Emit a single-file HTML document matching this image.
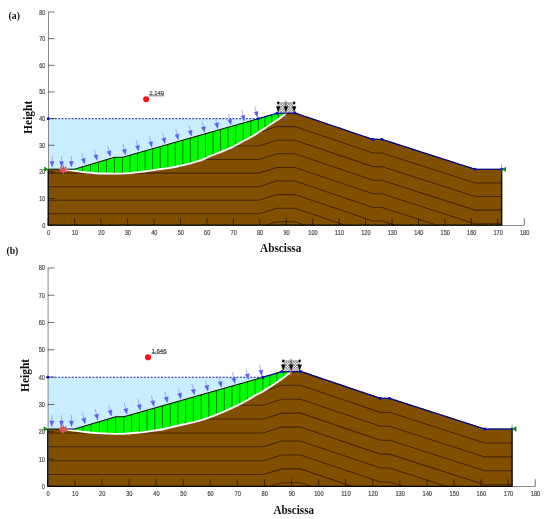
<!DOCTYPE html>
<html><head><meta charset="utf-8"><title>Slope stability</title>
<style>html,body{margin:0;padding:0;background:#fff;}svg{display:block;}</style>
</head><body>
<svg width="550" height="519" viewBox="0 0 550 519">
<rect width="550" height="519" fill="#fff"/>
<g transform="translate(0 0)">
<clipPath id="cba"><polygon points="48.20,169.20 74.50,169.20 114.50,157.30 122.50,157.30 258.30,118.70 277.00,113.20 295.00,113.00 373.00,139.40 382.00,139.40 475.00,169.30 501.70,169.30 501.70,225.20 48.20,225.20"/></clipPath>
<polygon points="48.20,118.70 258.30,118.70 122.50,157.30 114.50,157.30 74.50,169.20 48.20,169.20" fill="#c8eeff"/>
<polygon points="48.20,169.20 74.50,169.20 114.50,157.30 122.50,157.30 258.30,118.70 277.00,113.20 295.00,113.00 373.00,139.40 382.00,139.40 475.00,169.30 501.70,169.30 501.70,225.20 48.20,225.20" fill="#805000"/>
<g clip-path="url(#cba)" fill="none" stroke="#4a2608" stroke-width="1.05"><polyline points="46.20,132.45 258.80,132.45 276.70,126.60 295.00,126.60 373.00,153.00 382.00,153.00 475.00,182.90 503.70,182.90"/><polyline points="46.20,146.00 258.80,146.00 276.70,140.20 295.00,140.20 373.00,166.60 382.00,166.60 475.00,196.50 503.70,196.50"/><polyline points="46.20,159.55 258.80,159.55 276.70,153.80 295.00,153.80 373.00,180.20 382.00,180.20 475.00,210.10 503.70,210.10"/><polyline points="46.20,173.10 258.80,173.10 276.70,167.40 295.00,167.40 373.00,193.80 382.00,193.80 475.00,223.70 503.70,223.70"/><polyline points="46.20,186.65 258.80,186.65 276.70,181.00 295.00,181.00 373.00,207.40 382.00,207.40 475.00,237.30 503.70,237.30"/><polyline points="46.20,200.20 258.80,200.20 276.70,194.60 295.00,194.60 373.00,221.00 382.00,221.00 475.00,250.90 503.70,250.90"/><polyline points="46.20,213.75 258.80,213.75 276.70,208.20 295.00,208.20 373.00,234.60 382.00,234.60 475.00,264.50 503.70,264.50"/><polyline points="46.20,227.30 258.80,227.30 276.70,221.80 295.00,221.80 373.00,248.20 382.00,248.20 475.00,278.10 503.70,278.10"/></g>
<path d="M63.60,169.20 L74.50,169.20 L114.50,157.30 L122.50,157.30 L258.30,118.70 L277.00,113.20 L285.20,113.11 L285.20,114.00 C284.75,114.38 283.55,115.48 282.50,116.30 C281.45,117.12 280.10,118.07 278.90,118.90 C277.70,119.73 276.78,120.32 275.30,121.30 C273.82,122.28 271.57,123.75 270.00,124.80 C268.43,125.85 267.57,126.50 265.90,127.60 C264.23,128.70 261.82,130.22 260.00,131.40 C258.18,132.58 256.75,133.63 255.00,134.70 C253.25,135.77 251.62,136.65 249.50,137.80 C247.38,138.95 244.72,140.30 242.30,141.60 C239.88,142.90 237.05,144.50 235.00,145.60 C232.95,146.70 231.75,147.38 230.00,148.20 C228.25,149.02 226.62,149.65 224.50,150.50 C222.38,151.35 219.72,152.35 217.30,153.30 C214.88,154.25 212.43,155.17 210.00,156.20 C207.57,157.23 205.28,158.52 202.70,159.50 C200.12,160.48 197.22,161.28 194.50,162.10 C191.78,162.92 189.12,163.72 186.40,164.40 C183.68,165.08 180.93,165.63 178.20,166.20 C175.47,166.77 172.28,167.40 170.00,167.80 C167.72,168.20 166.67,168.30 164.50,168.60 C162.33,168.90 159.27,169.27 157.00,169.60 C154.73,169.93 153.07,170.28 150.90,170.60 C148.73,170.92 146.27,171.22 144.00,171.50 C141.73,171.78 139.70,172.03 137.30,172.30 C134.90,172.57 132.32,172.88 129.60,173.10 C126.88,173.32 123.52,173.52 121.00,173.60 C118.48,173.68 117.17,173.62 114.50,173.60 C111.83,173.58 108.02,173.57 105.00,173.50 C101.98,173.43 99.40,173.37 96.40,173.20 C93.40,173.03 90.03,172.80 87.00,172.50 C83.97,172.20 81.18,171.80 78.20,171.40 C75.22,171.00 71.53,170.45 69.10,170.10 C66.67,169.75 64.52,169.43 63.60,169.30 Z" fill="#00ff00"/>
<path d="M74.50,169.20V170.87M82.50,166.82V171.94M90.50,164.44V172.76M98.50,162.06V173.27M106.50,159.68V173.52M114.50,157.30V173.60M122.50,157.30V173.51M130.04,155.16V173.05M137.59,153.01V172.27M145.13,150.87V171.35M152.68,148.72V170.31M160.22,146.58V169.17M167.76,144.43V168.13M175.31,142.29V166.76M182.85,140.15V165.18M190.40,138.00V163.27M197.94,135.86V161.01M205.48,133.71V158.24M213.03,131.57V155.00M220.57,129.42V152.03M228.12,127.28V148.99M235.66,125.14V145.24M243.20,122.99V141.12M250.75,120.85V137.10M258.29,118.70V132.53M265.07,116.71V128.13M271.85,114.71V123.58M278.62,113.18V119.08" stroke="#0e6a0e" stroke-width="0.85" fill="none"/>
<path d="M63.60,169.30 C64.52,169.43 66.67,169.75 69.10,170.10 C71.53,170.45 75.22,171.00 78.20,171.40 C81.18,171.80 83.97,172.20 87.00,172.50 C90.03,172.80 93.40,173.03 96.40,173.20 C99.40,173.37 101.98,173.43 105.00,173.50 C108.02,173.57 111.83,173.58 114.50,173.60 C117.17,173.62 118.48,173.68 121.00,173.60 C123.52,173.52 126.88,173.32 129.60,173.10 C132.32,172.88 134.90,172.57 137.30,172.30 C139.70,172.03 141.73,171.78 144.00,171.50 C146.27,171.22 148.73,170.92 150.90,170.60 C153.07,170.28 154.73,169.93 157.00,169.60 C159.27,169.27 162.33,168.90 164.50,168.60 C166.67,168.30 167.72,168.20 170.00,167.80 C172.28,167.40 175.47,166.77 178.20,166.20 C180.93,165.63 183.68,165.08 186.40,164.40 C189.12,163.72 191.78,162.92 194.50,162.10 C197.22,161.28 200.12,160.48 202.70,159.50 C205.28,158.52 207.57,157.23 210.00,156.20 C212.43,155.17 214.88,154.25 217.30,153.30 C219.72,152.35 222.38,151.35 224.50,150.50 C226.62,149.65 228.25,149.02 230.00,148.20 C231.75,147.38 232.95,146.70 235.00,145.60 C237.05,144.50 239.88,142.90 242.30,141.60 C244.72,140.30 247.38,138.95 249.50,137.80 C251.62,136.65 253.25,135.77 255.00,134.70 C256.75,133.63 258.18,132.58 260.00,131.40 C261.82,130.22 264.23,128.70 265.90,127.60 C267.57,126.50 268.43,125.85 270.00,124.80 C271.57,123.75 273.82,122.28 275.30,121.30 C276.78,120.32 277.70,119.73 278.90,118.90 C280.10,118.07 281.45,117.12 282.50,116.30 C283.55,115.48 284.75,114.38 285.20,114.00" stroke="#ffffff" stroke-width="1.9" fill="none"/>
<polyline points="48.20,169.20 74.50,169.20 114.50,157.30 122.50,157.30 258.30,118.70" fill="none" stroke="#101010" stroke-width="1"/>
<polyline points="258.30,118.70 277.00,113.20 295.00,113.00 373.00,139.40 382.00,139.40 475.00,169.30 501.70,169.30" fill="none" stroke="#000" stroke-width="1.1"/>
<polyline points="258.30,118.70 277.00,113.20 295.00,113.00 373.00,139.40 382.00,139.40 475.00,169.30 501.70,169.30" fill="none" stroke="#0a0ad2" stroke-width="1.25" stroke-dasharray="1.7,1.1"/>
<line x1="48.20" y1="118.70" x2="258.30" y2="118.70" stroke="#1c1ca8" stroke-width="1" stroke-dasharray="1.9,1.45"/>
<polyline points="48.50,12.00 48.50,225.20" stroke="#8a8a8a" stroke-width="1" fill="none"/>
<polyline points="48.20,225.50 524.30,225.50" stroke="#8a8a8a" stroke-width="1" fill="none"/>
<polyline points="48.20,169.20 48.20,225.20 501.70,225.20 501.70,169.30" stroke="#000" stroke-width="1.3" fill="none"/>
<path d="M48.20,225.20H54.70M48.20,198.55H54.70M48.20,171.90H54.70M48.20,145.25H54.70M48.20,118.60H54.70M48.20,91.95H54.70M48.20,65.30H54.70M48.20,38.65H54.70M48.20,12.00H54.70M48.20,225.20V218.20M74.65,225.20V218.20M101.10,225.20V218.20M127.55,225.20V218.20M154.00,225.20V218.20M180.45,225.20V218.20M206.90,225.20V218.20M233.35,225.20V218.20M259.80,225.20V218.20M286.25,225.20V218.20M312.70,225.20V218.20M339.15,225.20V218.20M365.60,225.20V218.20M392.05,225.20V218.20M418.50,225.20V218.20M444.95,225.20V218.20M471.40,225.20V218.20M497.85,225.20V218.20M524.30,225.20V218.20" stroke="#000" stroke-opacity="0.55" stroke-width="1.0" fill="none"/>
<g font-family="Liberation Sans, Arial, sans-serif" font-size="7.3" fill="#474747" stroke="#474747" stroke-width="0.2"><text x="45.30" y="227.70" text-anchor="end" textLength="3.00" lengthAdjust="spacingAndGlyphs">0</text><text x="45.30" y="201.05" text-anchor="end" textLength="6.00" lengthAdjust="spacingAndGlyphs">10</text><text x="45.30" y="174.40" text-anchor="end" textLength="6.00" lengthAdjust="spacingAndGlyphs">20</text><text x="45.30" y="147.75" text-anchor="end" textLength="6.00" lengthAdjust="spacingAndGlyphs">30</text><text x="45.30" y="121.10" text-anchor="end" textLength="6.00" lengthAdjust="spacingAndGlyphs">40</text><text x="45.30" y="94.45" text-anchor="end" textLength="6.00" lengthAdjust="spacingAndGlyphs">50</text><text x="45.30" y="67.80" text-anchor="end" textLength="6.00" lengthAdjust="spacingAndGlyphs">60</text><text x="45.30" y="41.15" text-anchor="end" textLength="6.00" lengthAdjust="spacingAndGlyphs">70</text><text x="45.30" y="14.50" text-anchor="end" textLength="6.00" lengthAdjust="spacingAndGlyphs">80</text><text x="48.50" y="234.90" text-anchor="middle" textLength="3.10" lengthAdjust="spacingAndGlyphs">0</text><text x="74.95" y="234.90" text-anchor="middle" textLength="6.20" lengthAdjust="spacingAndGlyphs">10</text><text x="101.40" y="234.90" text-anchor="middle" textLength="6.20" lengthAdjust="spacingAndGlyphs">20</text><text x="127.85" y="234.90" text-anchor="middle" textLength="6.20" lengthAdjust="spacingAndGlyphs">30</text><text x="154.30" y="234.90" text-anchor="middle" textLength="6.20" lengthAdjust="spacingAndGlyphs">40</text><text x="180.75" y="234.90" text-anchor="middle" textLength="6.20" lengthAdjust="spacingAndGlyphs">50</text><text x="207.20" y="234.90" text-anchor="middle" textLength="6.20" lengthAdjust="spacingAndGlyphs">60</text><text x="233.65" y="234.90" text-anchor="middle" textLength="6.20" lengthAdjust="spacingAndGlyphs">70</text><text x="260.10" y="234.90" text-anchor="middle" textLength="6.20" lengthAdjust="spacingAndGlyphs">80</text><text x="286.55" y="234.90" text-anchor="middle" textLength="6.20" lengthAdjust="spacingAndGlyphs">90</text><text x="313.00" y="234.90" text-anchor="middle" textLength="9.30" lengthAdjust="spacingAndGlyphs">100</text><text x="339.45" y="234.90" text-anchor="middle" textLength="9.30" lengthAdjust="spacingAndGlyphs">110</text><text x="365.90" y="234.90" text-anchor="middle" textLength="9.30" lengthAdjust="spacingAndGlyphs">120</text><text x="392.35" y="234.90" text-anchor="middle" textLength="9.30" lengthAdjust="spacingAndGlyphs">130</text><text x="418.80" y="234.90" text-anchor="middle" textLength="9.30" lengthAdjust="spacingAndGlyphs">140</text><text x="445.25" y="234.90" text-anchor="middle" textLength="9.30" lengthAdjust="spacingAndGlyphs">150</text><text x="471.70" y="234.90" text-anchor="middle" textLength="9.30" lengthAdjust="spacingAndGlyphs">160</text><text x="498.15" y="234.90" text-anchor="middle" textLength="9.30" lengthAdjust="spacingAndGlyphs">170</text><text x="524.60" y="234.90" text-anchor="middle" textLength="9.30" lengthAdjust="spacingAndGlyphs">180</text></g>
<g><line x1="52.10" y1="155.80" x2="52.10" y2="161.50" stroke="#9898ff" stroke-width="0.8"/><polygon fill="#5d5df4" stroke="#5d5df4" stroke-width="0.5" stroke-linejoin="round" points="52.10,166.80 50.15,161.50 54.05,161.50"/><line x1="61.60" y1="155.80" x2="61.60" y2="161.50" stroke="#9898ff" stroke-width="0.8"/><polygon fill="#5d5df4" stroke="#5d5df4" stroke-width="0.5" stroke-linejoin="round" points="61.60,166.80 59.65,161.50 63.55,161.50"/><line x1="71.30" y1="155.80" x2="71.30" y2="161.50" stroke="#9898ff" stroke-width="0.8"/><polygon fill="#5d5df4" stroke="#5d5df4" stroke-width="0.5" stroke-linejoin="round" points="71.30,166.80 69.35,161.50 73.25,161.50"/><line x1="82.01" y1="153.31" x2="83.30" y2="158.86" stroke="#9898ff" stroke-width="0.8"/><polygon fill="#5d5df4" stroke="#5d5df4" stroke-width="0.5" stroke-linejoin="round" points="84.50,164.03 81.40,159.30 85.20,158.42"/><line x1="94.41" y1="149.62" x2="95.70" y2="155.17" stroke="#9898ff" stroke-width="0.8"/><polygon fill="#5d5df4" stroke="#5d5df4" stroke-width="0.5" stroke-linejoin="round" points="96.90,160.34 93.80,155.61 97.60,154.73"/><line x1="107.71" y1="145.66" x2="109.00" y2="151.22" stroke="#9898ff" stroke-width="0.8"/><polygon fill="#5d5df4" stroke="#5d5df4" stroke-width="0.5" stroke-linejoin="round" points="110.20,156.38 107.10,151.66 110.90,150.78"/><line x1="123.02" y1="143.94" x2="124.25" y2="149.50" stroke="#9898ff" stroke-width="0.8"/><polygon fill="#5d5df4" stroke="#5d5df4" stroke-width="0.5" stroke-linejoin="round" points="125.40,154.68 122.35,149.92 126.16,149.08"/><line x1="136.21" y1="140.19" x2="137.44" y2="145.75" stroke="#9898ff" stroke-width="0.8"/><polygon fill="#5d5df4" stroke="#5d5df4" stroke-width="0.5" stroke-linejoin="round" points="138.59,150.93 135.54,146.17 139.35,145.33"/><line x1="149.40" y1="136.44" x2="150.63" y2="142.00" stroke="#9898ff" stroke-width="0.8"/><polygon fill="#5d5df4" stroke="#5d5df4" stroke-width="0.5" stroke-linejoin="round" points="151.78,147.18 148.73,142.43 152.54,141.58"/><line x1="162.59" y1="132.69" x2="163.82" y2="138.25" stroke="#9898ff" stroke-width="0.8"/><polygon fill="#5d5df4" stroke="#5d5df4" stroke-width="0.5" stroke-linejoin="round" points="164.97,143.43 161.92,138.68 165.73,137.83"/><line x1="175.78" y1="128.94" x2="177.01" y2="134.50" stroke="#9898ff" stroke-width="0.8"/><polygon fill="#5d5df4" stroke="#5d5df4" stroke-width="0.5" stroke-linejoin="round" points="178.16,139.68 175.11,134.93 178.92,134.08"/><line x1="188.97" y1="125.19" x2="190.20" y2="130.76" stroke="#9898ff" stroke-width="0.8"/><polygon fill="#5d5df4" stroke="#5d5df4" stroke-width="0.5" stroke-linejoin="round" points="191.35,135.93 188.30,131.18 192.11,130.33"/><line x1="202.16" y1="121.44" x2="203.39" y2="127.01" stroke="#9898ff" stroke-width="0.8"/><polygon fill="#5d5df4" stroke="#5d5df4" stroke-width="0.5" stroke-linejoin="round" points="204.54,132.18 201.49,127.43 205.30,126.58"/><line x1="215.35" y1="117.69" x2="216.58" y2="123.26" stroke="#9898ff" stroke-width="0.8"/><polygon fill="#5d5df4" stroke="#5d5df4" stroke-width="0.5" stroke-linejoin="round" points="217.73,128.43 214.68,123.68 218.49,122.84"/><line x1="228.54" y1="113.94" x2="229.77" y2="119.51" stroke="#9898ff" stroke-width="0.8"/><polygon fill="#5d5df4" stroke="#5d5df4" stroke-width="0.5" stroke-linejoin="round" points="230.92,124.68 227.87,119.93 231.68,119.09"/><line x1="241.73" y1="110.19" x2="242.96" y2="115.76" stroke="#9898ff" stroke-width="0.8"/><polygon fill="#5d5df4" stroke="#5d5df4" stroke-width="0.5" stroke-linejoin="round" points="244.11,120.93 241.06,116.18 244.87,115.34"/><line x1="254.92" y1="106.45" x2="256.15" y2="112.01" stroke="#9898ff" stroke-width="0.8"/><polygon fill="#5d5df4" stroke="#5d5df4" stroke-width="0.5" stroke-linejoin="round" points="257.30,117.18 254.25,112.43 258.06,111.59"/></g>
<g fill="#0a0ad2"><circle cx="48.20" cy="118.70" r="1.45"/><circle cx="258.30" cy="118.70" r="1.45"/><circle cx="277.00" cy="113.20" r="1.45"/><circle cx="295.00" cy="113.00" r="1.45"/><circle cx="373.00" cy="139.40" r="1.45"/><circle cx="382.00" cy="139.40" r="1.45"/><circle cx="475.00" cy="169.30" r="1.45"/><circle cx="501.70" cy="169.30" r="1.45"/></g>
<polygon points="44.2,166.6 48.6,169.2 44.2,171.8" fill="#109010"/>
<polygon points="506.0,166.7 501.6,169.3 506.0,171.9" fill="#109010"/>
<line x1="501.7" y1="164" x2="501.7" y2="174" stroke="#3a7a3a" stroke-width="0.5"/>
<path d="M59.20,169.60L67.40,169.60M60.40,166.70L66.20,172.50M63.30,165.50L63.30,173.70M66.20,166.70L60.40,172.50" stroke="#e0506a" stroke-width="1.4" fill="none"/>
<line x1="285.7" y1="111.8" x2="285.7" y2="117.4" stroke="#e0506a" stroke-width="1.2"/>
<pattern id="hatcha" x="0.3" y="0.2" width="2.6" height="2.6" patternUnits="userSpaceOnUse"><rect width="2.6" height="2.6" fill="#fff"/><path d="M0,0L2.6,2.6M2.6,0L0,2.6" stroke="#111" stroke-width="0.4"/></pattern>
<rect x="277.3" y="102.4" width="17.4" height="9.6" fill="url(#hatcha)"/>
<line x1="277.6" y1="102.8" x2="294.8" y2="102.8" stroke="#222" stroke-width="0.5" stroke-dasharray="0.8,0.9"/>
<polygon points="278.20,111.8 276.35,106.6 280.05,106.6" fill="#000" stroke="#000" stroke-width="0.4" stroke-linejoin="round"/>
<polygon points="285.90,111.8 284.05,106.6 287.75,106.6" fill="#000" stroke="#000" stroke-width="0.4" stroke-linejoin="round"/>
<polygon points="294.20,111.8 292.35,106.6 296.05,106.6" fill="#000" stroke="#000" stroke-width="0.4" stroke-linejoin="round"/>
<line x1="285.9" y1="100.8" x2="285.9" y2="107.2" stroke="#000" stroke-width="0.6"/>
<ellipse cx="278.20" cy="102.8" rx="1.15" ry="1.35" fill="#000"/>
<ellipse cx="294.20" cy="102.8" rx="1.15" ry="1.35" fill="#000"/>
<circle cx="146.1" cy="99.2" r="3.0" fill="#ff1010"/>
</g>
<text x="149.20" y="94.70" font-family="Liberation Sans, Arial, sans-serif" font-size="6.0" fill="#3c3c3c" stroke="#3c3c3c" stroke-width="0.18" textLength="14.90" lengthAdjust="spacingAndGlyphs">2.149</text>
<line x1="149.20" y1="95.80" x2="164.10" y2="95.80" stroke="#555" stroke-width="0.8"/>

<g transform="matrix(1.02382 0 0 1.02439 -1.5481 255.6073)">
<clipPath id="cbb"><polygon points="48.20,169.20 74.50,169.20 114.50,157.30 122.50,157.30 258.30,118.70 277.00,113.20 295.00,113.00 373.00,139.40 382.00,139.40 475.00,169.30 501.70,169.30 501.70,225.20 48.20,225.20"/></clipPath>
<polygon points="48.20,118.70 258.30,118.70 122.50,157.30 114.50,157.30 74.50,169.20 48.20,169.20" fill="#c8eeff"/>
<polygon points="48.20,169.20 74.50,169.20 114.50,157.30 122.50,157.30 258.30,118.70 277.00,113.20 295.00,113.00 373.00,139.40 382.00,139.40 475.00,169.30 501.70,169.30 501.70,225.20 48.20,225.20" fill="#805000"/>
<g clip-path="url(#cbb)" fill="none" stroke="#4a2608" stroke-width="1.05"><polyline points="46.20,132.45 258.80,132.45 276.70,126.60 295.00,126.60 373.00,153.00 382.00,153.00 475.00,182.90 503.70,182.90"/><polyline points="46.20,146.00 258.80,146.00 276.70,140.20 295.00,140.20 373.00,166.60 382.00,166.60 475.00,196.50 503.70,196.50"/><polyline points="46.20,159.55 258.80,159.55 276.70,153.80 295.00,153.80 373.00,180.20 382.00,180.20 475.00,210.10 503.70,210.10"/><polyline points="46.20,173.10 258.80,173.10 276.70,167.40 295.00,167.40 373.00,193.80 382.00,193.80 475.00,223.70 503.70,223.70"/><polyline points="46.20,186.65 258.80,186.65 276.70,181.00 295.00,181.00 373.00,207.40 382.00,207.40 475.00,237.30 503.70,237.30"/><polyline points="46.20,200.20 258.80,200.20 276.70,194.60 295.00,194.60 373.00,221.00 382.00,221.00 475.00,250.90 503.70,250.90"/><polyline points="46.20,213.75 258.80,213.75 276.70,208.20 295.00,208.20 373.00,234.60 382.00,234.60 475.00,264.50 503.70,264.50"/><polyline points="46.20,227.30 258.80,227.30 276.70,221.80 295.00,221.80 373.00,248.20 382.00,248.20 475.00,278.10 503.70,278.10"/></g>
<path d="M62.80,169.20 L74.50,169.20 L114.50,157.30 L122.50,157.30 L258.30,118.70 L277.00,113.20 L285.30,113.11 L285.30,114.00 C285.12,114.15 285.33,114.05 284.20,114.90 C283.07,115.75 280.77,117.48 278.50,119.10 C276.23,120.72 273.25,122.80 270.60,124.60 C267.95,126.40 264.83,128.47 262.60,129.90 C260.37,131.33 258.97,132.22 257.20,133.20 C255.43,134.18 253.98,134.70 252.00,135.80 C250.02,136.90 247.75,138.41 245.30,139.80 C242.85,141.19 239.97,142.77 237.30,144.17 C234.63,145.57 232.05,146.87 229.30,148.19 C226.55,149.51 223.98,150.71 220.80,152.08 C217.62,153.45 213.75,155.06 210.20,156.40 C206.65,157.74 203.05,159.00 199.50,160.10 C195.95,161.20 192.45,162.13 188.90,163.00 C185.35,163.87 181.80,164.48 178.20,165.30 C174.60,166.12 170.93,167.07 167.30,167.90 C163.67,168.73 159.98,169.65 156.40,170.30 C152.82,170.95 149.35,171.35 145.80,171.80 C142.25,172.25 138.65,172.68 135.10,173.00 C131.55,173.32 127.23,173.53 124.50,173.70 C121.77,173.87 121.43,173.98 118.70,174.00 C115.97,174.02 111.65,173.92 108.10,173.80 C104.55,173.68 100.95,173.53 97.40,173.30 C93.85,173.07 90.35,172.77 86.80,172.40 C83.25,172.03 79.48,171.57 76.10,171.10 C72.72,170.63 68.72,169.95 66.50,169.60 C64.28,169.25 63.42,169.10 62.80,169.00 Z" fill="#00ff00"/>
<path d="M74.50,169.20V170.85M82.50,166.82V171.88M90.50,164.44V172.71M98.50,162.06V173.35M106.50,159.68V173.73M114.50,157.30V173.92M122.50,157.30V173.80M130.04,155.16V173.33M137.59,153.01V172.72M145.13,150.87V171.87M152.68,148.72V170.83M160.22,146.58V169.46M167.76,144.43V167.79M175.31,142.29V165.99M182.85,140.15V164.30M190.40,138.00V162.59M197.94,135.86V160.53M205.48,133.71V158.03M213.03,131.57V155.25M220.57,129.42V152.17M228.12,127.28V148.73M235.66,125.14V144.99M243.20,122.99V140.94M250.75,120.85V136.55M258.29,118.70V132.53M265.07,116.71V128.26M271.85,114.71V123.73M278.62,113.18V119.01" stroke="#0e6a0e" stroke-width="0.85" fill="none"/>
<path d="M62.80,169.00 C63.42,169.10 64.28,169.25 66.50,169.60 C68.72,169.95 72.72,170.63 76.10,171.10 C79.48,171.57 83.25,172.03 86.80,172.40 C90.35,172.77 93.85,173.07 97.40,173.30 C100.95,173.53 104.55,173.68 108.10,173.80 C111.65,173.92 115.97,174.02 118.70,174.00 C121.43,173.98 121.77,173.87 124.50,173.70 C127.23,173.53 131.55,173.32 135.10,173.00 C138.65,172.68 142.25,172.25 145.80,171.80 C149.35,171.35 152.82,170.95 156.40,170.30 C159.98,169.65 163.67,168.73 167.30,167.90 C170.93,167.07 174.60,166.12 178.20,165.30 C181.80,164.48 185.35,163.87 188.90,163.00 C192.45,162.13 195.95,161.20 199.50,160.10 C203.05,159.00 206.65,157.74 210.20,156.40 C213.75,155.06 217.62,153.45 220.80,152.08 C223.98,150.71 226.55,149.51 229.30,148.19 C232.05,146.87 234.63,145.57 237.30,144.17 C239.97,142.77 242.85,141.19 245.30,139.80 C247.75,138.41 250.02,136.90 252.00,135.80 C253.98,134.70 255.43,134.18 257.20,133.20 C258.97,132.22 260.37,131.33 262.60,129.90 C264.83,128.47 267.95,126.40 270.60,124.60 C273.25,122.80 276.23,120.72 278.50,119.10 C280.77,117.48 283.07,115.75 284.20,114.90 C285.33,114.05 285.12,114.15 285.30,114.00" stroke="#ffffff" stroke-width="1.9" fill="none"/>
<polyline points="48.20,169.20 74.50,169.20 114.50,157.30 122.50,157.30 258.30,118.70" fill="none" stroke="#101010" stroke-width="1"/>
<polyline points="258.30,118.70 277.00,113.20 295.00,113.00 373.00,139.40 382.00,139.40 475.00,169.30 501.70,169.30" fill="none" stroke="#000" stroke-width="1.1"/>
<polyline points="258.30,118.70 277.00,113.20 295.00,113.00 373.00,139.40 382.00,139.40 475.00,169.30 501.70,169.30" fill="none" stroke="#0a0ad2" stroke-width="1.25" stroke-dasharray="1.7,1.1"/>
<line x1="48.20" y1="118.70" x2="258.30" y2="118.70" stroke="#1c1ca8" stroke-width="1" stroke-dasharray="1.9,1.45"/>
<polyline points="48.50,12.00 48.50,225.20" stroke="#8a8a8a" stroke-width="1" fill="none"/>
<polyline points="48.20,225.50 524.30,225.50" stroke="#8a8a8a" stroke-width="1" fill="none"/>
<polyline points="48.20,169.20 48.20,225.20 501.70,225.20 501.70,169.30" stroke="#000" stroke-width="1.3" fill="none"/>
<path d="M48.20,225.20H54.70M48.20,198.55H54.70M48.20,171.90H54.70M48.20,145.25H54.70M48.20,118.60H54.70M48.20,91.95H54.70M48.20,65.30H54.70M48.20,38.65H54.70M48.20,12.00H54.70M48.20,225.20V218.20M74.65,225.20V218.20M101.10,225.20V218.20M127.55,225.20V218.20M154.00,225.20V218.20M180.45,225.20V218.20M206.90,225.20V218.20M233.35,225.20V218.20M259.80,225.20V218.20M286.25,225.20V218.20M312.70,225.20V218.20M339.15,225.20V218.20M365.60,225.20V218.20M392.05,225.20V218.20M418.50,225.20V218.20M444.95,225.20V218.20M471.40,225.20V218.20M497.85,225.20V218.20M524.30,225.20V218.20" stroke="#000" stroke-opacity="0.55" stroke-width="1.0" fill="none"/>
<g font-family="Liberation Sans, Arial, sans-serif" font-size="7.3" fill="#474747" stroke="#474747" stroke-width="0.2"><text x="45.30" y="227.70" text-anchor="end" textLength="3.00" lengthAdjust="spacingAndGlyphs">0</text><text x="45.30" y="201.05" text-anchor="end" textLength="6.00" lengthAdjust="spacingAndGlyphs">10</text><text x="45.30" y="174.40" text-anchor="end" textLength="6.00" lengthAdjust="spacingAndGlyphs">20</text><text x="45.30" y="147.75" text-anchor="end" textLength="6.00" lengthAdjust="spacingAndGlyphs">30</text><text x="45.30" y="121.10" text-anchor="end" textLength="6.00" lengthAdjust="spacingAndGlyphs">40</text><text x="45.30" y="94.45" text-anchor="end" textLength="6.00" lengthAdjust="spacingAndGlyphs">50</text><text x="45.30" y="67.80" text-anchor="end" textLength="6.00" lengthAdjust="spacingAndGlyphs">60</text><text x="45.30" y="41.15" text-anchor="end" textLength="6.00" lengthAdjust="spacingAndGlyphs">70</text><text x="45.30" y="14.50" text-anchor="end" textLength="6.00" lengthAdjust="spacingAndGlyphs">80</text><text x="48.50" y="234.90" text-anchor="middle" textLength="3.10" lengthAdjust="spacingAndGlyphs">0</text><text x="74.95" y="234.90" text-anchor="middle" textLength="6.20" lengthAdjust="spacingAndGlyphs">10</text><text x="101.40" y="234.90" text-anchor="middle" textLength="6.20" lengthAdjust="spacingAndGlyphs">20</text><text x="127.85" y="234.90" text-anchor="middle" textLength="6.20" lengthAdjust="spacingAndGlyphs">30</text><text x="154.30" y="234.90" text-anchor="middle" textLength="6.20" lengthAdjust="spacingAndGlyphs">40</text><text x="180.75" y="234.90" text-anchor="middle" textLength="6.20" lengthAdjust="spacingAndGlyphs">50</text><text x="207.20" y="234.90" text-anchor="middle" textLength="6.20" lengthAdjust="spacingAndGlyphs">60</text><text x="233.65" y="234.90" text-anchor="middle" textLength="6.20" lengthAdjust="spacingAndGlyphs">70</text><text x="260.10" y="234.90" text-anchor="middle" textLength="6.20" lengthAdjust="spacingAndGlyphs">80</text><text x="286.55" y="234.90" text-anchor="middle" textLength="6.20" lengthAdjust="spacingAndGlyphs">90</text><text x="313.00" y="234.90" text-anchor="middle" textLength="9.30" lengthAdjust="spacingAndGlyphs">100</text><text x="339.45" y="234.90" text-anchor="middle" textLength="9.30" lengthAdjust="spacingAndGlyphs">110</text><text x="365.90" y="234.90" text-anchor="middle" textLength="9.30" lengthAdjust="spacingAndGlyphs">120</text><text x="392.35" y="234.90" text-anchor="middle" textLength="9.30" lengthAdjust="spacingAndGlyphs">130</text><text x="418.80" y="234.90" text-anchor="middle" textLength="9.30" lengthAdjust="spacingAndGlyphs">140</text><text x="445.25" y="234.90" text-anchor="middle" textLength="9.30" lengthAdjust="spacingAndGlyphs">150</text><text x="471.70" y="234.90" text-anchor="middle" textLength="9.30" lengthAdjust="spacingAndGlyphs">160</text><text x="498.15" y="234.90" text-anchor="middle" textLength="9.30" lengthAdjust="spacingAndGlyphs">170</text><text x="524.60" y="234.90" text-anchor="middle" textLength="9.30" lengthAdjust="spacingAndGlyphs">180</text></g>
<g><line x1="52.10" y1="155.80" x2="52.10" y2="161.50" stroke="#9898ff" stroke-width="0.8"/><polygon fill="#5d5df4" stroke="#5d5df4" stroke-width="0.5" stroke-linejoin="round" points="52.10,166.80 50.15,161.50 54.05,161.50"/><line x1="61.60" y1="155.80" x2="61.60" y2="161.50" stroke="#9898ff" stroke-width="0.8"/><polygon fill="#5d5df4" stroke="#5d5df4" stroke-width="0.5" stroke-linejoin="round" points="61.60,166.80 59.65,161.50 63.55,161.50"/><line x1="71.30" y1="155.80" x2="71.30" y2="161.50" stroke="#9898ff" stroke-width="0.8"/><polygon fill="#5d5df4" stroke="#5d5df4" stroke-width="0.5" stroke-linejoin="round" points="71.30,166.80 69.35,161.50 73.25,161.50"/><line x1="82.01" y1="153.31" x2="83.30" y2="158.86" stroke="#9898ff" stroke-width="0.8"/><polygon fill="#5d5df4" stroke="#5d5df4" stroke-width="0.5" stroke-linejoin="round" points="84.50,164.03 81.40,159.30 85.20,158.42"/><line x1="94.41" y1="149.62" x2="95.70" y2="155.17" stroke="#9898ff" stroke-width="0.8"/><polygon fill="#5d5df4" stroke="#5d5df4" stroke-width="0.5" stroke-linejoin="round" points="96.90,160.34 93.80,155.61 97.60,154.73"/><line x1="107.71" y1="145.66" x2="109.00" y2="151.22" stroke="#9898ff" stroke-width="0.8"/><polygon fill="#5d5df4" stroke="#5d5df4" stroke-width="0.5" stroke-linejoin="round" points="110.20,156.38 107.10,151.66 110.90,150.78"/><line x1="123.02" y1="143.94" x2="124.25" y2="149.50" stroke="#9898ff" stroke-width="0.8"/><polygon fill="#5d5df4" stroke="#5d5df4" stroke-width="0.5" stroke-linejoin="round" points="125.40,154.68 122.35,149.92 126.16,149.08"/><line x1="136.21" y1="140.19" x2="137.44" y2="145.75" stroke="#9898ff" stroke-width="0.8"/><polygon fill="#5d5df4" stroke="#5d5df4" stroke-width="0.5" stroke-linejoin="round" points="138.59,150.93 135.54,146.17 139.35,145.33"/><line x1="149.40" y1="136.44" x2="150.63" y2="142.00" stroke="#9898ff" stroke-width="0.8"/><polygon fill="#5d5df4" stroke="#5d5df4" stroke-width="0.5" stroke-linejoin="round" points="151.78,147.18 148.73,142.43 152.54,141.58"/><line x1="162.59" y1="132.69" x2="163.82" y2="138.25" stroke="#9898ff" stroke-width="0.8"/><polygon fill="#5d5df4" stroke="#5d5df4" stroke-width="0.5" stroke-linejoin="round" points="164.97,143.43 161.92,138.68 165.73,137.83"/><line x1="175.78" y1="128.94" x2="177.01" y2="134.50" stroke="#9898ff" stroke-width="0.8"/><polygon fill="#5d5df4" stroke="#5d5df4" stroke-width="0.5" stroke-linejoin="round" points="178.16,139.68 175.11,134.93 178.92,134.08"/><line x1="188.97" y1="125.19" x2="190.20" y2="130.76" stroke="#9898ff" stroke-width="0.8"/><polygon fill="#5d5df4" stroke="#5d5df4" stroke-width="0.5" stroke-linejoin="round" points="191.35,135.93 188.30,131.18 192.11,130.33"/><line x1="202.16" y1="121.44" x2="203.39" y2="127.01" stroke="#9898ff" stroke-width="0.8"/><polygon fill="#5d5df4" stroke="#5d5df4" stroke-width="0.5" stroke-linejoin="round" points="204.54,132.18 201.49,127.43 205.30,126.58"/><line x1="215.35" y1="117.69" x2="216.58" y2="123.26" stroke="#9898ff" stroke-width="0.8"/><polygon fill="#5d5df4" stroke="#5d5df4" stroke-width="0.5" stroke-linejoin="round" points="217.73,128.43 214.68,123.68 218.49,122.84"/><line x1="228.54" y1="113.94" x2="229.77" y2="119.51" stroke="#9898ff" stroke-width="0.8"/><polygon fill="#5d5df4" stroke="#5d5df4" stroke-width="0.5" stroke-linejoin="round" points="230.92,124.68 227.87,119.93 231.68,119.09"/><line x1="241.73" y1="110.19" x2="242.96" y2="115.76" stroke="#9898ff" stroke-width="0.8"/><polygon fill="#5d5df4" stroke="#5d5df4" stroke-width="0.5" stroke-linejoin="round" points="244.11,120.93 241.06,116.18 244.87,115.34"/><line x1="254.92" y1="106.45" x2="256.15" y2="112.01" stroke="#9898ff" stroke-width="0.8"/><polygon fill="#5d5df4" stroke="#5d5df4" stroke-width="0.5" stroke-linejoin="round" points="257.30,117.18 254.25,112.43 258.06,111.59"/></g>
<g fill="#0a0ad2"><circle cx="48.20" cy="118.70" r="1.45"/><circle cx="258.30" cy="118.70" r="1.45"/><circle cx="277.00" cy="113.20" r="1.45"/><circle cx="295.00" cy="113.00" r="1.45"/><circle cx="373.00" cy="139.40" r="1.45"/><circle cx="382.00" cy="139.40" r="1.45"/><circle cx="475.00" cy="169.30" r="1.45"/><circle cx="501.70" cy="169.30" r="1.45"/></g>
<polygon points="44.2,166.6 48.6,169.2 44.2,171.8" fill="#109010"/>
<polygon points="506.0,166.7 501.6,169.3 506.0,171.9" fill="#109010"/>
<line x1="501.7" y1="164" x2="501.7" y2="174" stroke="#3a7a3a" stroke-width="0.5"/>
<path d="M59.20,169.60L67.40,169.60M60.40,166.70L66.20,172.50M63.30,165.50L63.30,173.70M66.20,166.70L60.40,172.50" stroke="#e0506a" stroke-width="1.4" fill="none"/>
<line x1="285.7" y1="111.8" x2="285.7" y2="117.4" stroke="#e0506a" stroke-width="1.2"/>
<pattern id="hatchb" x="0.3" y="0.2" width="2.6" height="2.6" patternUnits="userSpaceOnUse"><rect width="2.6" height="2.6" fill="#fff"/><path d="M0,0L2.6,2.6M2.6,0L0,2.6" stroke="#111" stroke-width="0.4"/></pattern>
<rect x="277.3" y="102.4" width="17.4" height="9.6" fill="url(#hatchb)"/>
<line x1="277.6" y1="102.8" x2="294.8" y2="102.8" stroke="#222" stroke-width="0.5" stroke-dasharray="0.8,0.9"/>
<polygon points="278.20,111.8 276.35,106.6 280.05,106.6" fill="#000" stroke="#000" stroke-width="0.4" stroke-linejoin="round"/>
<polygon points="285.90,111.8 284.05,106.6 287.75,106.6" fill="#000" stroke="#000" stroke-width="0.4" stroke-linejoin="round"/>
<polygon points="294.20,111.8 292.35,106.6 296.05,106.6" fill="#000" stroke="#000" stroke-width="0.4" stroke-linejoin="round"/>
<line x1="285.9" y1="100.8" x2="285.9" y2="107.2" stroke="#000" stroke-width="0.6"/>
<ellipse cx="278.20" cy="102.8" rx="1.15" ry="1.35" fill="#000"/>
<ellipse cx="294.20" cy="102.8" rx="1.15" ry="1.35" fill="#000"/>
<circle cx="146.1" cy="99.2" r="3.0" fill="#ff1010"/>
</g>
<text x="151.40" y="352.50" font-family="Liberation Sans, Arial, sans-serif" font-size="6.0" fill="#3c3c3c" stroke="#3c3c3c" stroke-width="0.18" textLength="15.20" lengthAdjust="spacingAndGlyphs">1.646</text>
<line x1="151.40" y1="353.60" x2="166.60" y2="353.60" stroke="#555" stroke-width="0.8"/>

<text x="8.6" y="19.3" font-size="9.7" font-family="Liberation Serif, Times New Roman, serif" font-weight="bold" fill="#111">(a)</text>
<text x="6.5" y="254.4" font-size="9.7" font-family="Liberation Serif, Times New Roman, serif" font-weight="bold" fill="#111">(b)</text>
<text transform="translate(31.6 117.3) rotate(-90)" text-anchor="middle" font-size="12.2" textLength="33.2" lengthAdjust="spacingAndGlyphs" font-family="Liberation Serif, Times New Roman, serif" font-weight="bold" fill="#111">Height</text>
<text transform="translate(29.1 375.4) rotate(-90)" text-anchor="middle" font-size="12.2" textLength="33.2" lengthAdjust="spacingAndGlyphs" font-family="Liberation Serif, Times New Roman, serif" font-weight="bold" fill="#111">Height</text>
<text x="280.7" y="251.8" text-anchor="middle" font-size="12.2" textLength="41.4" lengthAdjust="spacingAndGlyphs" font-family="Liberation Serif, Times New Roman, serif" font-weight="bold" fill="#111">Abscissa</text>
<text x="293.7" y="513.7" text-anchor="middle" font-size="12.2" textLength="40.6" lengthAdjust="spacingAndGlyphs" font-family="Liberation Serif, Times New Roman, serif" font-weight="bold" fill="#111">Abscissa</text>
</svg>
</body></html>
